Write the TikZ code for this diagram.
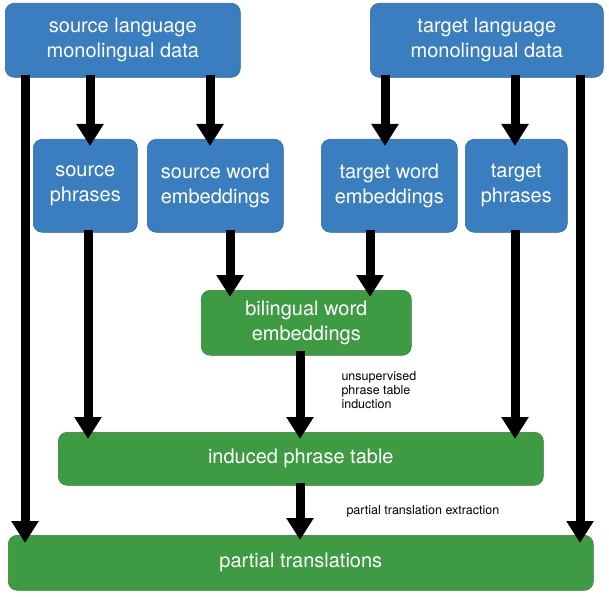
\documentclass[tikz,border=0pt]{standalone}
\usepackage{fontspec}
\setmainfont{TeX Gyre Heros}
\usetikzlibrary{arrows.meta}
\definecolor{bblue}{HTML}{3A7EBF}
\definecolor{ggreen}{HTML}{3E9B44}
\begin{document}
\begin{tikzpicture}[x=1pt,y=-1pt,
 box/.style={rounded corners=9pt,text=white,align=center,font=\fontsize{20}{25}\selectfont,inner sep=0pt,anchor=north west},
 bb/.style={box,fill=bblue,draw=bblue!80!black,line width=0.6pt},
 gb/.style={box,fill=ggreen,draw=ggreen!80!black,line width=0.6pt},
 arr/.style={line width=9pt,-{Triangle[width=26pt,length=22pt]}},
 lab/.style={font=\fontsize{12.5}{14}\selectfont,align=left,anchor=west}]
\useasboundingbox (0,0) rectangle (609,596);
\node[bb,minimum width=235pt,minimum height=74pt] (sl) at (5,3) {source language\\monolingual data};
\node[bb,minimum width=233pt,minimum height=74pt] (tl) at (370,3) {target language\\monolingual data};
\node[bb,minimum width=104pt,minimum height=93pt] (sp) at (33,139) {source\\phrases};
\node[bb,minimum width=136pt,minimum height=93pt] (sw) at (147,139) {source word\\embeddings};
\node[bb,minimum width=136pt,minimum height=93pt] (tw) at (321,139) {target word\\embeddings};
\node[bb,minimum width=102pt,minimum height=93pt] (tp) at (465,139) {target\\phrases};
\node[gb,minimum width=210pt,minimum height=65pt] (bw) at (201,290) {bilingual word\\embeddings};
\node[gb,minimum width=485pt,minimum height=53pt] (ip) at (58,432) {induced phrase table};
\node[gb,minimum width=585pt,minimum height=55pt] (pt) at (8,535) {partial translations};
\coordinate (c1) at (25,0); \coordinate (c2) at (90,0); \coordinate (c3) at (210,0);
\coordinate (c4) at (385,0); \coordinate (c5) at (515,0); \coordinate (c6) at (580,0);
\coordinate (c7) at (88,0); \coordinate (c8) at (230,0); \coordinate (c9) at (370,0);
\coordinate (c10) at (300,0);
\draw[arr] ([yshift=3pt]sl.south -| c1) -- ([yshift=-8pt]pt.north -| c1);
\draw[arr] ([yshift=3pt]sl.south -| c2) -- ([yshift=-7pt]sp.north -| c2);
\draw[arr] ([yshift=3pt]sl.south -| c3) -- ([yshift=-7pt]sw.north -| c3);
\draw[arr] ([yshift=3pt]tl.south -| c4) -- ([yshift=-7pt]tw.north -| c4);
\draw[arr] ([yshift=3pt]tl.south -| c5) -- ([yshift=-7pt]tp.north -| c5);
\draw[arr] ([yshift=3pt]tl.south -| c6) -- ([yshift=-8pt]pt.north -| c6);
\draw[arr] ([yshift=3pt]sp.south -| c7) -- ([yshift=-7pt]ip.north -| c7);
\draw[arr] ([yshift=3pt]sw.south -| c8) -- ([yshift=-7pt]bw.north -| c8);
\draw[arr] ([yshift=3pt]tw.south -| c9) -- ([yshift=-7pt]bw.north -| c9);
\draw[arr] ([yshift=3pt]tp.south -| c5) -- ([yshift=-7pt]ip.north -| c5);
\draw[arr] ([yshift=5pt]bw.south -| c10) -- ([yshift=-7pt]ip.north -| c10);
\draw[arr] ([yshift=3pt]ip.south -| c10) -- ([yshift=-5pt]pt.north -| c10);
\node[lab] (l1) at (338,390) {unsupervised\\phrase table\\induction};
\node[lab] (l2) at (343,511) {partial translation extraction};
\end{tikzpicture}
\end{document}
